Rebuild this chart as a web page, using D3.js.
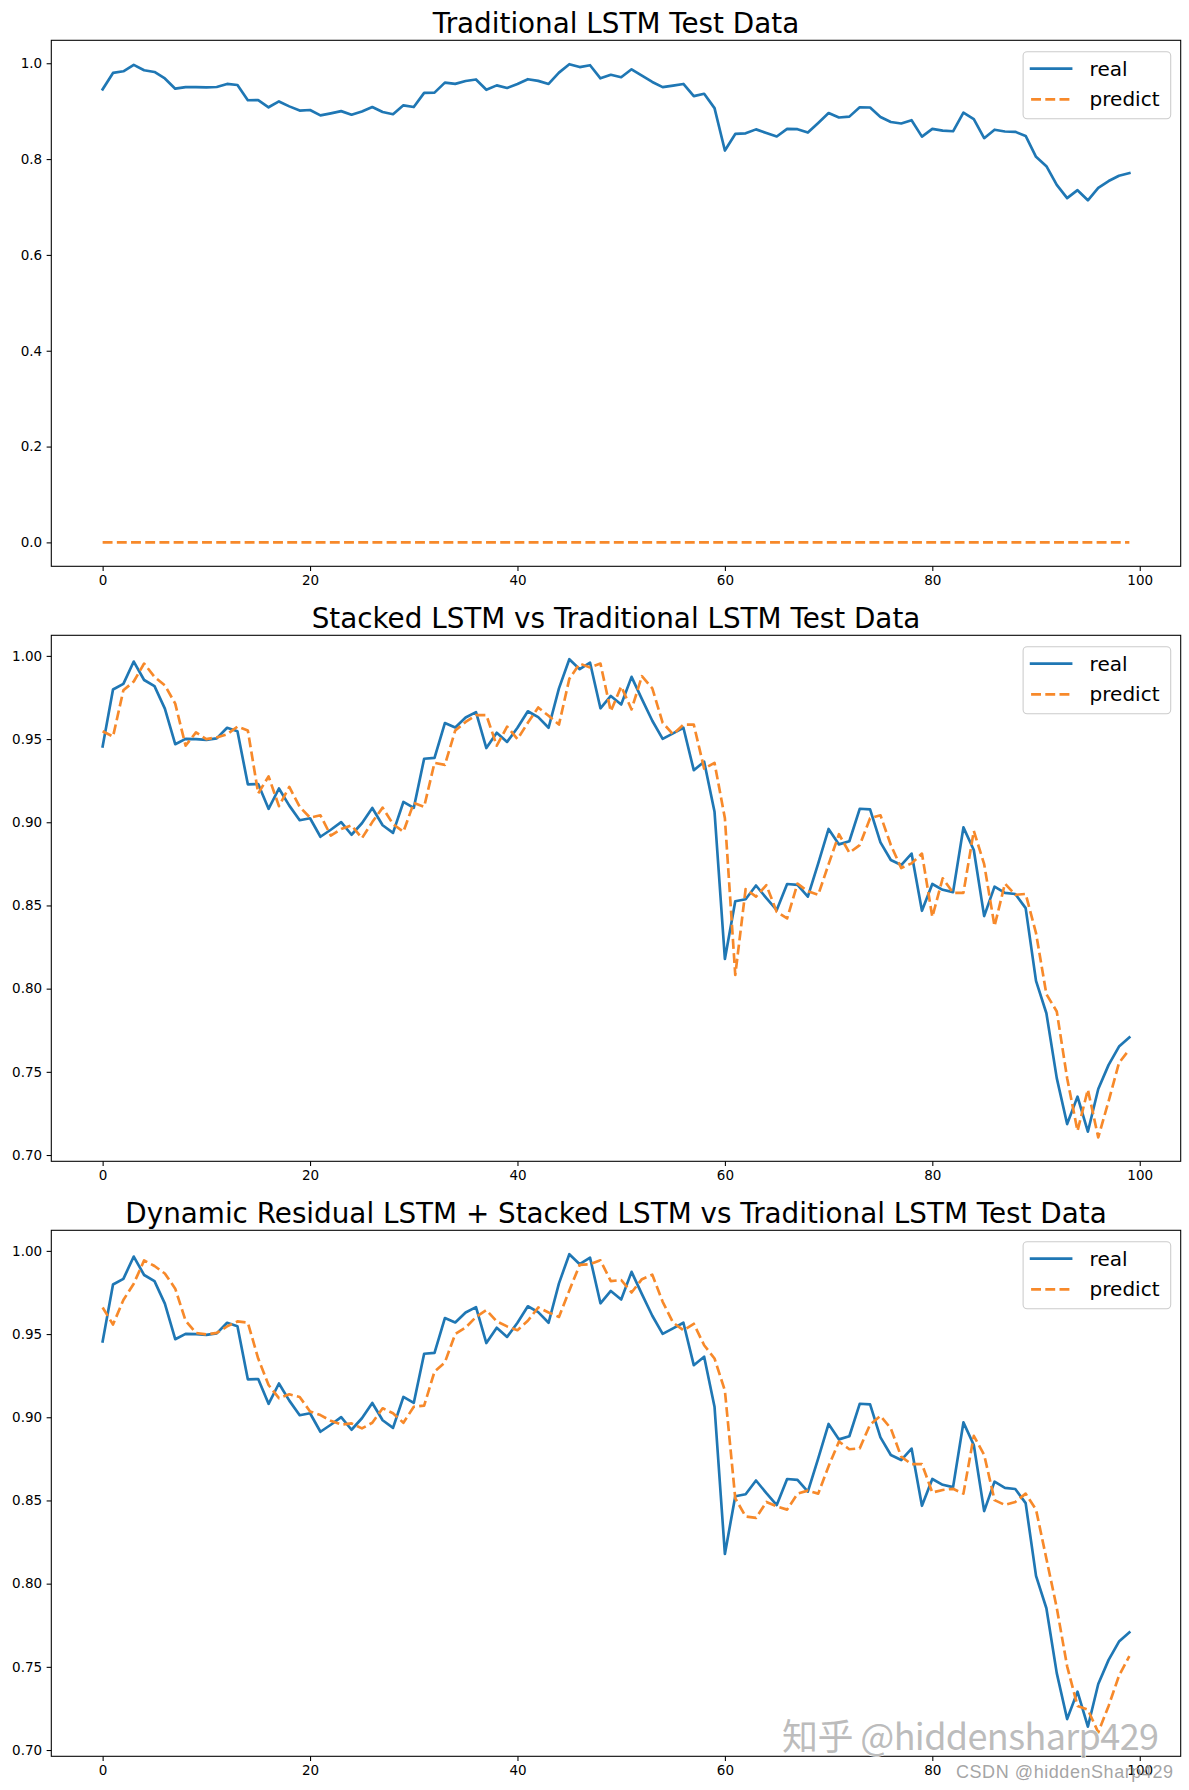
<!DOCTYPE html>
<html>
<head>
<meta charset="utf-8">
<script src="https://cdn.jsdelivr.net/npm/d3@7"></script>
<style>
    body { margin: 0; background: white; }
    text { font-family: "DejaVu Sans", sans-serif; }
</style>
</head>
<body>
<div id="wrapper"></div>
<script>
// values, one per time step
const real = [
    0.9456, 0.9798, 0.9832, 0.9966, 0.9855, 0.9818, 0.9683, 0.9469, 0.9501, 0.9500,
    0.9495, 0.9504, 0.9568, 0.9547, 0.9228, 0.9230, 0.9081, 0.9203, 0.9100, 0.9012,
    0.9024, 0.8913, 0.8955, 0.9001, 0.8925, 0.8994, 0.9086, 0.8982, 0.8936, 0.9122,
    0.9086, 0.9382, 0.9387, 0.9596, 0.9570, 0.9630, 0.9662, 0.9446, 0.9538, 0.9483,
    0.9568, 0.9667, 0.9632, 0.9568, 0.9805, 0.9980, 0.9920, 0.9959, 0.9685, 0.9759,
    0.9708, 0.9874, 0.9740, 0.9610, 0.9501, 0.9534, 0.9568, 0.9313, 0.9364, 0.9063,
    0.8178, 0.8525, 0.8537, 0.8620, 0.8544, 0.8472, 0.8629, 0.8624, 0.8553, 0.8753,
    0.8960, 0.8867, 0.8886, 0.9081, 0.9077, 0.8879, 0.8773, 0.8743, 0.8812, 0.8468,
    0.8629, 0.8594, 0.8580, 0.8969, 0.8833, 0.8436, 0.8613, 0.8576, 0.8569, 0.8484,
    0.8047, 0.7852, 0.7462, 0.7186, 0.7351, 0.7140, 0.7397, 0.7542, 0.7652, 0.7707
];

const predict_traditional = [
    0, 0, 0, 0, 0, 0, 0, 0, 0, 0,
    0, 0, 0, 0, 0, 0, 0, 0, 0, 0,
    0, 0, 0, 0, 0, 0, 0, 0, 0, 0,
    0, 0, 0, 0, 0, 0, 0, 0, 0, 0,
    0, 0, 0, 0, 0, 0, 0, 0, 0, 0,
    0, 0, 0, 0, 0, 0, 0, 0, 0, 0,
    0, 0, 0, 0, 0, 0, 0, 0, 0, 0,
    0, 0, 0, 0, 0, 0, 0, 0, 0, 0,
    0, 0, 0, 0, 0, 0, 0, 0, 0, 0,
    0, 0, 0, 0, 0, 0, 0, 0, 0, 0
];

const predict_stacked = [
    0.9547, 0.9515, 0.9793, 0.9846, 0.9954, 0.9874, 0.9823, 0.9713, 0.9460, 0.9540,
    0.9500, 0.9510, 0.9529, 0.9575, 0.9552, 0.9173, 0.9276, 0.9097, 0.9212, 0.9093,
    0.9028, 0.9042, 0.8920, 0.8959, 0.8982, 0.8904, 0.9001, 0.9088, 0.8989, 0.8943,
    0.9116, 0.9093, 0.9357, 0.9345, 0.9552, 0.9603, 0.9644, 0.9644, 0.9460, 0.9575,
    0.9500, 0.9598, 0.9690, 0.9640, 0.9587, 0.9862, 0.9954, 0.9930, 0.9954, 0.9667,
    0.9816, 0.9678, 0.9878, 0.9805, 0.9598, 0.9529, 0.9587, 0.9587, 0.9322, 0.9357,
    0.9024, 0.8082, 0.8599, 0.8553, 0.8622, 0.8461, 0.8422, 0.8631, 0.8585, 0.8564,
    0.8748, 0.8928, 0.8817, 0.8863, 0.9024, 0.9042, 0.8863, 0.8725, 0.8753, 0.8812,
    0.8431, 0.8663, 0.8576, 0.8576, 0.8948, 0.8748, 0.8376, 0.8631, 0.8564, 0.8569,
    0.8334, 0.7967, 0.7863, 0.7462, 0.7145, 0.7393, 0.7106, 0.7324, 0.7554, 0.7634
];

const predict_dynamic = [
    0.9660, 0.9557, 0.9705, 0.9803, 0.9943, 0.9909, 0.9864, 0.9773, 0.9580, 0.9507,
    0.9498, 0.9507, 0.9546, 0.9576, 0.9569, 0.9353, 0.9194, 0.9115, 0.9138, 0.9122,
    0.9035, 0.9013, 0.8979, 0.8956, 0.8963, 0.8933, 0.8967, 0.9054, 0.9024, 0.8967,
    0.9063, 0.9070, 0.9274, 0.9330, 0.9500, 0.9539, 0.9603, 0.9644, 0.9576, 0.9546,
    0.9523, 0.9580, 0.9660, 0.9630, 0.9603, 0.9762, 0.9916, 0.9920, 0.9943, 0.9818,
    0.9825, 0.9750, 0.9830, 0.9857, 0.9694, 0.9569, 0.9523, 0.9562, 0.9433, 0.9353,
    0.9160, 0.8513, 0.8404, 0.8395, 0.8491, 0.8464, 0.8445, 0.8541, 0.8559, 0.8541,
    0.8706, 0.8854, 0.8808, 0.8813, 0.8956, 0.9008, 0.8933, 0.8763, 0.8718, 0.8718,
    0.8548, 0.8563, 0.8570, 0.8541, 0.8888, 0.8774, 0.8502, 0.8473, 0.8491, 0.8541,
    0.8445, 0.8150, 0.7855, 0.7503, 0.7265, 0.7242, 0.7106, 0.7265, 0.7447, 0.7565
];

const titles = [
    "Traditional LSTM Test Data",
    "Stacked LSTM vs Traditional LSTM Test Data",
    "Dynamic Residual LSTM + Stacked LSTM vs Traditional LSTM Test Data"
];
const legend_labels = ["real", "predict"];
const x_ticks = [0, 20, 40, 60, 80, 100];
const y_ticks_traditional = [0.0, 0.2, 0.4, 0.6, 0.8, 1.0];
const y_ticks_compare = [0.70, 0.75, 0.80, 0.85, 0.90, 0.95, 1.00];

function drawChart() {
    const predictions = [predict_traditional, predict_stacked, predict_dynamic];
    const y_tick_sets = [y_ticks_traditional, y_ticks_compare, y_ticks_compare];
    const y_formats = [d3.format(".1f"), d3.format(".2f"), d3.format(".2f")];
    const steps = d3.range(real.length);

    let dimensions = {
        width: 1189,
        height: 1790,
        margin: { left: 51.3, right: 8.3 },
        panel_tops: [40.3, 635.3, 1230.3],
        panel_height: 526
    };
    dimensions.bounded_width = dimensions.width - dimensions.margin.left - dimensions.margin.right;

    const colors = { real: "#1f77b4", predict: "#f7892a" };
    const line_width = 2.67;
    const dash = "9.9,4.3";
    const tick_len = 4.67;

    const wrapper = d3.select("#wrapper")
        .append("svg")
        .attr("width", dimensions.width)
        .attr("height", dimensions.height);

    wrapper.append("rect")
        .attr("width", dimensions.width)
        .attr("height", dimensions.height)
        .attr("fill", "white");

    // matplotlib style 5% padding on each side
    const padded = ext => {
        const pad = (ext[1] - ext[0]) * 0.05;
        return [ext[0] - pad, ext[1] + pad];
    };

    const x_scale = d3.scaleLinear()
        .domain(padded(d3.extent(steps)))
        .range([0, dimensions.bounded_width]);

    predictions.forEach((predict, p) => {
        const bounds = wrapper.append("g")
            .attr("transform", `translate(${dimensions.margin.left}, ${dimensions.panel_tops[p]})`);

        const y_scale = d3.scaleLinear()
            .domain(padded(d3.extent(real.concat(predict))))
            .range([dimensions.panel_height, 0]);

        const line_gen = series => d3.line()
            .x((d, i) => x_scale(steps[i]))
            .y(d => y_scale(d))(series);

        bounds.append("path")
            .attr("d", line_gen(real))
            .attr("fill", "none")
            .attr("stroke", colors.real)
            .attr("stroke-width", line_width)
            .attr("stroke-linejoin", "round")
            .attr("stroke-linecap", "square");

        bounds.append("path")
            .attr("d", line_gen(predict))
            .attr("fill", "none")
            .attr("stroke", colors.predict)
            .attr("stroke-width", line_width)
            .attr("stroke-dasharray", dash)
            .attr("stroke-linejoin", "round");

        // axes
        const x_axis = bounds.append("g")
            .attr("transform", `translate(0, ${dimensions.panel_height})`)
            .call(d3.axisBottom(x_scale).tickValues(x_ticks).tickSize(tick_len).tickPadding(4.5).tickSizeOuter(0));

        const y_axis = bounds.append("g")
            .call(d3.axisLeft(y_scale).tickValues(y_tick_sets[p]).tickFormat(y_formats[p])
                .tickSize(tick_len).tickPadding(4.5).tickSizeOuter(0));

        [x_axis, y_axis].forEach(ax => {
            ax.select(".domain").remove();
            ax.selectAll(".tick line").attr("stroke", "black").attr("stroke-width", 1.07);
            ax.selectAll(".tick text")
                .attr("fill", "black")
                .style("font-size", "13.5px")
                .style("font-family", "DejaVu Sans");
        });

        // frame
        bounds.append("rect")
            .attr("width", dimensions.bounded_width)
            .attr("height", dimensions.panel_height)
            .attr("fill", "none")
            .attr("stroke", "black")
            .attr("stroke-width", 1.07);

        bounds.append("text")
            .attr("x", dimensions.bounded_width / 2)
            .attr("y", -7.6)
            .attr("text-anchor", "middle")
            .style("font-size", "27.8px")
            .attr("fill", "black")
            .text(titles[p]);

        // legend
        const legend = bounds.append("g")
            .attr("transform", `translate(${dimensions.bounded_width - 10 - 147.6}, 11.4)`);

        legend.append("rect")
            .attr("width", 147.6)
            .attr("height", 67)
            .attr("rx", 4)
            .attr("fill", "white")
            .attr("fill-opacity", 0.8)
            .attr("stroke", "#cccccc")
            .attr("stroke-width", 1.07);

        legend_labels.forEach((label, k) => {
            const row_y = 17 + k * 30.7;
            legend.append("line")
                .attr("x1", 8)
                .attr("x2", 48)
                .attr("y1", row_y)
                .attr("y2", row_y)
                .attr("stroke", k === 0 ? colors.real : colors.predict)
                .attr("stroke-width", line_width)
                .attr("stroke-dasharray", k === 0 ? null : dash)
                .attr("stroke-linecap", k === 0 ? "square" : "butt");
            legend.append("text")
                .attr("x", 66.5)
                .attr("y", row_y + 7)
                .style("font-size", "20px")
                .attr("fill", "black")
                .text(label);
        });
    });

    // watermarks on the source picture
    wrapper.append("text")
        .attr("x", 782)
        .attr("y", 1750)
        .attr("textLength", 377)
        .style("font-family", "'Noto Sans CJK SC', 'Noto Sans', sans-serif")
        .style("font-size", "36px")
        .attr("fill", "#b0b0b0")
        .attr("fill-opacity", 0.85)
        .attr("stroke", "white")
        .attr("stroke-width", 1.2)
        .style("paint-order", "stroke")
        .text("知乎 @hiddensharp429");

    wrapper.append("text")
        .attr("x", 956)
        .attr("y", 1778)
        .attr("textLength", 217)
        .style("font-family", "'Liberation Sans', Arial, sans-serif")
        .style("font-size", "18px")
        .attr("fill", "#999999")
        .attr("fill-opacity", 0.9)
        .text("CSDN @hiddenSharp429");
}

drawChart();
</script>
</body>
</html>
